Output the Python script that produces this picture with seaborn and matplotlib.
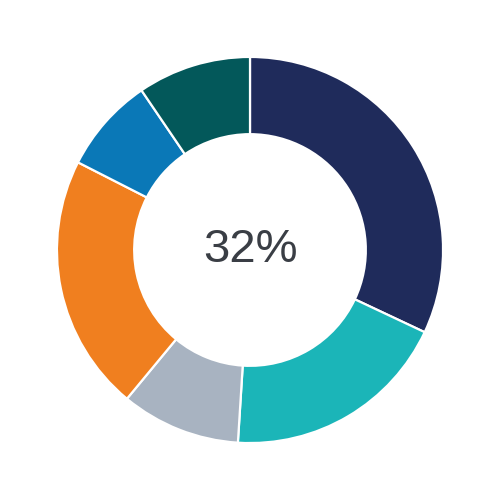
import matplotlib
matplotlib.use("Agg")
import matplotlib.pyplot as plt
import seaborn as sns

sns.set_style("white")
plt.rcParams['font.family'] = ['Liberation Sans', 'DejaVu Sans']

# Data (clockwise from 12 o'clock)
segments = ["A", "B", "C", "D", "E", "F"]
shares = [32, 19, 10, 21.5, 8, 9.5]
colors = ["#1f2b5b", "#1bb5b8", "#a8b3c1", "#f07f1f", "#0a78b7", "#03585a"]
center_label = "32%"

fig = plt.figure(figsize=(5, 5), dpi=100)
ax = fig.add_axes([0, 0, 1, 1])

ax.pie(shares, colors=colors, startangle=90, counterclock=False,
       radius=1.0,
       wedgeprops=dict(width=0.4, edgecolor="white", linewidth=1.6))

ax.text(0, 0.0, center_label, ha="center", va="center",
        fontsize=34, color="#3a3e45")

ax.set_xlim(-1.295, 1.295)
ax.set_ylim(-1.295, 1.295)
ax.set_aspect("equal")
ax.axis("off")

plt.savefig("out.png", dpi=100, facecolor="white")
